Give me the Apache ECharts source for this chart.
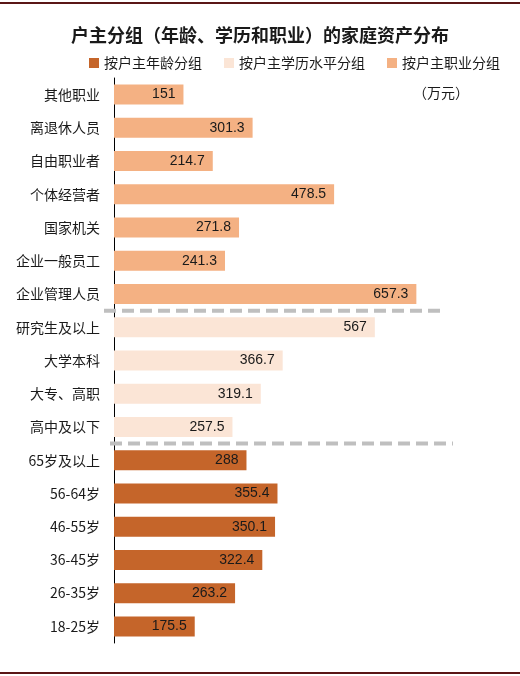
<!DOCTYPE html>
<html><head><meta charset="utf-8">
<script src="https://cdn.jsdelivr.net/npm/echarts@6/dist/echarts.min.js"></script>
<style>html,body{margin:0;padding:0;background:#fff}#c{width:520px;height:676px}</style>
</head><body><div id="c"></div>
<script>
var categories = ['其他职业','离退休人员','自由职业者','个体经营者','国家机关','企业一般员工','企业管理人员','研究生及以上','大学本科','大专、高职','高中及以下','65岁及以上','56-64岁','46-55岁','36-45岁','26-35岁','18-25岁'];
var occupationValues = [151,301.3,214.7,478.5,271.8,241.3,657.3];
var educationValues = [567,366.7,319.1,257.5];
var ageValues = [288,355.4,350.1,322.4,263.2,175.5];
var seriesNames = ['按户主年龄分组','按户主学历水平分组','按户主职业分组'];

function pad(vals, before, total){
  var out=[]; for(var i=0;i<total;i++){ out.push(i>=before && i<before+vals.length ? vals[i-before] : '-'); } return out;
}
var n = categories.length;
var occData = pad(occupationValues, 0, n);
var eduData = pad(educationValues, occupationValues.length, n);
var ageData = pad(ageValues, occupationValues.length+educationValues.length, n);

var chart = echarts.init(document.getElementById('c'));
var lbl = {show:true, position:'insideRight', distance:8, color:'#1a1a1a', fontSize:14, fontFamily:'Liberation Sans, Arial, sans-serif'};
chart.setOption({
  animation:false,
  backgroundColor:'#fff',
  title:{text:'户主分组（年龄、学历和职业）的家庭资产分布', left:'center', top:21,
    textStyle:{fontSize:18, fontWeight:'bold', color:'#1a1a1a', fontFamily:'Noto Sans CJK SC'}},
  legend:{top:51, left:84, itemWidth:10, itemHeight:10, itemGap:22, icon:'rect',
    data:seriesNames,
    textStyle:{fontSize:14, color:'#1a1a1a', fontFamily:'Noto Sans CJK SC'}},
  grid:{left:114, right:38, top:78, bottom:33},
  xAxis:{type:'value', min:0, max:800, show:false},
  yAxis:{type:'category', data:categories, inverse:true,
    axisLine:{show:true, lineStyle:{color:'#000', width:1}},
    axisTick:{show:false},
    axisLabel:{margin:14, fontSize:14, color:'#1a1a1a', fontFamily:'Noto Sans CJK SC'}},
  series:[
    {name:seriesNames[0], type:'bar', stack:'a', barWidth:20, data:ageData, itemStyle:{color:'#c5652a'}, label:lbl},
    {name:seriesNames[1], type:'bar', stack:'a', barWidth:20, data:eduData, itemStyle:{color:'#fbe5d6'}, label:lbl},
    {name:seriesNames[2], type:'bar', stack:'a', barWidth:20, data:occData, itemStyle:{color:'#f4b183'}, label:lbl}
  ]
});

function yMid(i){
  var a = chart.convertToPixel({yAxisIndex:0}, categories[i]);
  var b = chart.convertToPixel({yAxisIndex:0}, categories[i+1]);
  return (a+b)/2;
}
var x0 = chart.convertToPixel({xAxisIndex:0}, 0);
var y1 = yMid(occupationValues.length-1);
var y2 = yMid(occupationValues.length+educationValues.length-1);
var dash = {stroke:'#bfbfbf', lineWidth:4, lineDash:[12,6]};
chart.setOption({graphic:[
  {type:'rect', shape:{x:0,y:2,width:520,height:2}, style:{fill:'#5a1616'}},
  {type:'rect', shape:{x:0,y:672,width:520,height:2}, style:{fill:'#5a1616'}},
  {type:'line', shape:{x1:x0-10,y1:y1,x2:x0+332,y2:y1}, style:dash, z:10},
  {type:'line', shape:{x1:x0-4,y1:y2,x2:x0+339,y2:y2}, style:dash, z:10},
  {type:'text', left:413, top:86, style:{text:'（万元）', fontSize:14, fill:'#1a1a1a', fontFamily:'Noto Sans CJK SC'}}
]});
</script></body></html>
